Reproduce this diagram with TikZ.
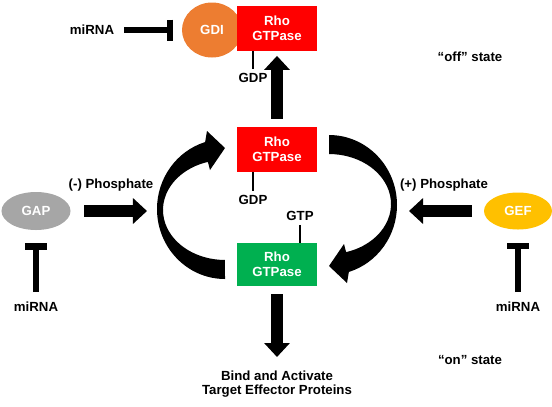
\documentclass[tikz,border=0pt]{standalone}
\usepackage{fontspec}
\setmainfont{Liberation Sans}
\usetikzlibrary{shapes.geometric, arrows.meta, calc}
\definecolor{rhored}{RGB}{255, 0, 0}
\definecolor{rhogreen}{RGB}{0, 176, 80}
\definecolor{gdiorange}{RGB}{237, 125, 49}
\definecolor{gefgold}{RGB}{255, 192, 0}
\definecolor{gapgray}{RGB}{166, 166, 166}

\begin{document}
\begin{tikzpicture}[
  x=0.03cm, y=-0.03cm,
  font=\fontsize{11.3}{13.2}\selectfont\bfseries,
  gtpase/.style={minimum width=2.4cm, minimum height=1.35cm, align=center, text=white, inner sep=0pt},
  factor/.style={ellipse, minimum width=2.07cm, minimum height=1.14cm, text=white, inner sep=0pt},
  blockarrow/.style={line width=0.36cm, -{Triangle[length=0.42cm, width=0.75cm]}},
  inhibit/.style={line width=0.19cm, -{Bar[width=0.66cm]}},
  bond/.style={line width=1.3pt},
  loop arrow/.pic={
    \fill (-52,72) arc[start angle=90, end angle=253, x radius=68, y radius=70]
      -- (-70,-76) -- (-52,-59) -- (-67,-37) -- (-69.1,-45.1)
      arc[start angle=254, end angle=90, x radius=62, y radius=50] -- cycle;
  }
]
  \useasboundingbox (0,0) rectangle (552,406);

  % Rho GTPase states
  \node[factor, fill=gdiorange, minimum width=1.8cm, minimum height=1.65cm] (gdi) at (212,30) {GDI};
  \node[gtpase, fill=rhored] (bound) at (277,28.5) {Rho\\GTPase};
  \node[gtpase, fill=rhored] (inactive) at (277,149.5) {Rho\\GTPase};
  \node[gtpase, fill=rhogreen, minimum height=1.29cm] (active) at (277,264.5) {Rho\\GTPase};

  % Regulators
  \node[factor, fill=gapgray] (gap) at (36,211) {GAP};
  \node[factor, fill=gefgold, minimum width=2.04cm, minimum height=1.11cm] (gef) at (518,211) {GEF};

  % Labels
  \node (mirnagdi) at (92,30) {miRNA};
  \node (mirnagap) at (36,307) {miRNA};
  \node (mirnagef) at (518,307) {miRNA};
  \node (gdpbound) at (253,78) {GDP};
  \node (gdpinactive) at (253,200) {GDP};
  \node (gtpactive) at (300,216) {GTP};
  \node (minus) at (111,185) {(-) Phosphate};
  \node (plus) at (444,185) {(+) Phosphate};
  \node (off) at (470,57) {“off” state};
  \node (on) at (470,360) {“on” state};
  \node[align=center, anchor=north, font=\fontsize{11.3}{11.5}\selectfont\bfseries] (effector) at (277,367) {Bind and Activate\\Target Effector Proteins};

  \coordinate (mid) at ($(inactive)!0.5!(active)$);
  \coordinate (leftloop) at (157,211);
  \coordinate (rightloop) at (397,211);

  % Cycle
  \pic at (mid) {loop arrow};
  \pic[rotate=180] at (mid) {loop arrow};

  \draw[blockarrow, shorten <=0.24cm, shorten >=0.14cm] (inactive) -- (bound);
  \draw[blockarrow, shorten <=0.24cm, shorten >=0.3cm] (active) -- (effector);
  \draw[blockarrow, shorten <=0.4cm, shorten >=0.3cm] (gap) -- (leftloop);
  \draw[blockarrow, shorten <=0.36cm, shorten >=0.36cm] (gef) -- (rightloop);

  % Nucleotides
  \draw[bond] (gdpbound.north |- bound.south) -- (gdpbound);
  \draw[bond] (gdpinactive.north |- inactive.south) -- (gdpinactive);
  \draw[bond] (gtpactive) -- (gtpactive.south |- active.north);

  % miRNA inhibition
  \draw[inhibit, line width=0.18cm, -{Bar[width=0.63cm]}, shorten <=0.18cm, shorten >=0.27cm] (mirnagdi) -- (gdi);
  \draw[inhibit, shorten <=0.18cm, shorten >=0.39cm] (mirnagap) -- (gap);
  \draw[inhibit, shorten <=0.18cm, shorten >=0.39cm] (mirnagef) -- (gef);
\end{tikzpicture}
\end{document}
